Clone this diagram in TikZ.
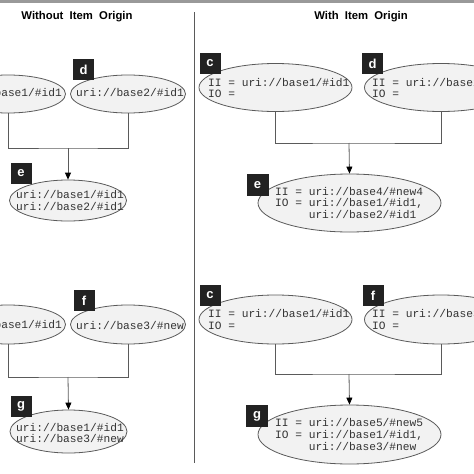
\documentclass[tikz,border=0pt]{standalone}
\usepackage{fontspec}
\setmainfont{Liberation Sans}
\newfontfamily\monofont{Liberation Mono}
\usetikzlibrary{shapes.geometric,arrows.meta}
\definecolor{ellfill}{HTML}{F2F2F2}
\definecolor{ellline}{HTML}{5A5A5A}
\definecolor{boxfill}{HTML}{222222}
\definecolor{txt}{HTML}{333333}
\definecolor{barcol}{HTML}{999999}
\begin{document}
\begin{tikzpicture}[x=1pt,y=-1pt,
  ell/.style={ellipse, draw=ellline, fill=ellfill, line width=0.8pt, inner sep=0pt},
  ew/.style={ell, minimum width=115pt},
  ewide/.style={ell, minimum width=153pt},
  ebig/.style={ell, minimum width=183pt},
  mono/.style={inner sep=0pt, font=\monofont\fontsize{11.2}{11.6}\selectfont, text=txt, align=left},
  lbl/.style={rectangle, fill=boxfill, text=white, font=\bfseries\fontsize{13}{13}\selectfont, minimum size=21pt, inner sep=0pt},
  conn/.style={draw=ellline, line width=0.8pt},
  arr/.style={conn, -{Triangle[length=7pt,width=6pt,color=black]}},
  title/.style={font=\bfseries\fontsize{11.3}{12}\selectfont, text=black, inner sep=0pt}
]
\useasboundingbox (0,0) rectangle (474,474);
\clip (0,0) rectangle (474,474);
\fill[barcol] (0,0) rectangle (474,3);
\node[title] (t1) at (77,17) {Without\ \ Item\ \ Origin};
\node[title] (t2) at (361,17) {With\ \ Item\ \ Origin};
\coordinate (divtop) at (194,12);
\coordinate (divbot) at (194,463);
\draw[draw=ellline, line width=0.8pt] (divtop) -- (divbot);

% ellipses
\node[ew, minimum height=38pt] (c1) at (8,94) {};
\node[ew, minimum height=38pt] (d1) at (128,94) {};
\node[ell, minimum width=117pt, minimum height=41pt] (e1) at (68,200.5) {};
\node[ewide, minimum height=48pt] (c2) at (275.5,87.5) {};
\node[ewide, minimum height=48pt] (d2) at (441,87.5) {};
\node[ebig, minimum height=58pt] (e2) at (349.5,203) {};
\node[ew, minimum height=39pt] (c3) at (8,324.5) {};
\node[ew, minimum height=39pt] (f3) at (128,324.5) {};
\node[ell, minimum width=117pt, minimum height=43pt] (g3) at (68.5,431.5) {};
\node[ewide, minimum height=49pt] (c4) at (275.5,319.5) {};
\node[ewide, minimum height=49pt] (f4) at (441,319.5) {};
\node[ebig, minimum height=59pt] (g4) at (349.5,434.5) {};

% junctions and connectors
\coordinate (j1) at (68,148);
\coordinate (j2) at (349,143);
\coordinate (j3) at (68,377);
\coordinate (j4) at (349,374);
\draw[conn] (c1.south) |- (j1) -| (d1.south);
\draw[arr] (j1) -- (e1.north);
\draw[conn] (c2.south) |- (j2) -| (d2.south);
\draw[arr] (j2) -- (e2.north);
\draw[conn] (c3.south) |- (j3) -| (f3.south);
\draw[arr] (j3) -- (g3.north);
\draw[conn] (c4.south) |- (j4) -| (f4.south);
\draw[arr] (j4) -- (g4.north);

% texts
\node[mono, anchor=east] (c1t) at (62,93) {uri://base1/\#id1};
\node[mono, anchor=west] (d1t) at (76,93) {uri://base2/\#id1};
\node[mono, anchor=west] (e1t) at (16,200.5) {uri://base1/\#id1\\uri://base2/\#id1};
\node[mono, anchor=west] (c2t) at (208,88) {II = uri://base1/\#id1\\IO =};
\node[mono, anchor=west] (d2t) at (372,88) {II = uri://base2/\#id1\\IO =};
\node[mono, anchor=west] (e2t) at (275,203) {II = uri://base4/\#new4\\IO = uri://base1/\#id1,\\\phantom{IO = }uri://base2/\#id1};
\node[mono, anchor=east] (c3t) at (62,325) {uri://base1/\#id1};
\node[mono, anchor=west] (f3t) at (76,325) {uri://base3/\#new};
\node[mono, anchor=west] (g3t) at (16,433) {uri://base1/\#id1\\uri://base3/\#new};
\node[mono, anchor=west] (c4t) at (208,319.5) {II = uri://base1/\#id1\\IO =};
\node[mono, anchor=west] (f4t) at (372,319.5) {II = uri://base3/\#new\\IO =};
\node[mono, anchor=west] (g4t) at (275,434.5) {II = uri://base5/\#new5\\IO = uri://base1/\#id1,\\\phantom{IO = }uri://base3/\#new};

% labels
\node[lbl] (d1b) at (83.5,69.5) {d};
\node[lbl] (e1b) at (21,173.5) {e};
\node[lbl] (c2b) at (210,63.5) {c};
\node[lbl] (d2b) at (372.5,63.5) {d};
\node[lbl, minimum size=22pt] (e2b) at (257.5,185) {e};
\node[lbl] (f3b) at (84,300.5) {f};
\node[lbl] (g3b) at (21,406) {g};
\node[lbl] (c4b) at (210,295) {c};
\node[lbl] (f4b) at (373,295.5) {f};
\node[lbl, minimum size=22pt] (g4b) at (257,416) {g};
\end{tikzpicture}
\end{document}
